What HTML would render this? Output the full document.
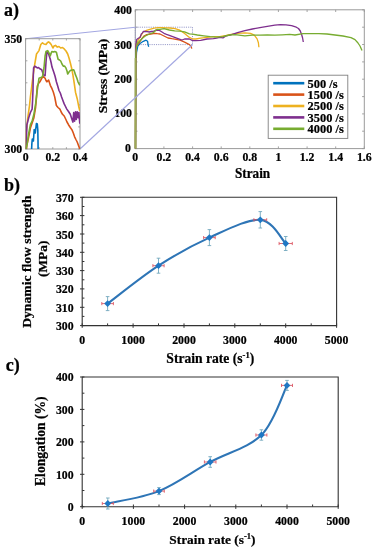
<!DOCTYPE html>
<html><head><meta charset="utf-8"><title>Figure</title>
<style>html,body{margin:0;padding:0;background:#fff;overflow:hidden}svg{display:block;filter:blur(0.3px)}svg text{stroke:#000;stroke-width:0.22px}</style></head>
<body><svg width="375" height="550" viewBox="0 0 375 550" font-family="'Liberation Serif', 'Times New Roman', serif" font-weight="bold" fill="#000">
<rect width="375" height="550" fill="#fff"/>
<text x="4.0" y="16.0" font-size="18" text-anchor="start" >a)</text>
<text x="4.0" y="191.0" font-size="18" text-anchor="start" >b)</text>
<text x="5.8" y="371.2" font-size="18" text-anchor="start" >c)</text>
<rect x="135.3" y="9.8" width="229.0" height="138.8" fill="none" stroke="#9a9a9a" stroke-width="1"/>
<path d="M135.3,148.6v-2.2M135.3,9.8v2.2M163.9,148.6v-2.2M163.9,9.8v2.2M192.6,148.6v-2.2M192.6,9.8v2.2M221.2,148.6v-2.2M221.2,9.8v2.2M249.8,148.6v-2.2M249.8,9.8v2.2M278.4,148.6v-2.2M278.4,9.8v2.2M307.1,148.6v-2.2M307.1,9.8v2.2M335.7,148.6v-2.2M335.7,9.8v2.2M364.3,148.6v-2.2M364.3,9.8v2.2M135.3,148.6h2.2M364.3,148.6h-2.2M135.3,131.2h2.2M364.3,131.2h-2.2M135.3,113.9h2.2M364.3,113.9h-2.2M135.3,96.6h2.2M364.3,96.6h-2.2M135.3,79.2h2.2M364.3,79.2h-2.2M135.3,61.9h2.2M364.3,61.9h-2.2M135.3,44.5h2.2M364.3,44.5h-2.2M135.3,27.2h2.2M364.3,27.2h-2.2M135.3,9.8h2.2M364.3,9.8h-2.2" stroke="#9a9a9a" stroke-width="0.9" fill="none"/>
<text x="135.3" y="160.6" font-size="11.8" text-anchor="middle" transform="matrix(1,0,0,1.1,0,-15.66)" >0</text>
<text x="163.9" y="160.6" font-size="11.8" text-anchor="middle" transform="matrix(1,0,0,1.1,0,-15.66)" >0.2</text>
<text x="192.6" y="160.6" font-size="11.8" text-anchor="middle" transform="matrix(1,0,0,1.1,0,-15.66)" >0.4</text>
<text x="221.2" y="160.6" font-size="11.8" text-anchor="middle" transform="matrix(1,0,0,1.1,0,-15.66)" >0.6</text>
<text x="249.8" y="160.6" font-size="11.8" text-anchor="middle" transform="matrix(1,0,0,1.1,0,-15.66)" >0.8</text>
<text x="278.4" y="160.6" font-size="11.8" text-anchor="middle" transform="matrix(1,0,0,1.1,0,-15.66)" >1</text>
<text x="307.1" y="160.6" font-size="11.8" text-anchor="middle" transform="matrix(1,0,0,1.1,0,-15.66)" >1.2</text>
<text x="335.7" y="160.6" font-size="11.8" text-anchor="middle" transform="matrix(1,0,0,1.1,0,-15.66)" >1.4</text>
<text x="364.3" y="160.6" font-size="11.8" text-anchor="middle" transform="matrix(1,0,0,1.1,0,-15.66)" >1.6</text>
<text x="130.8" y="151.9" font-size="11.8" text-anchor="end" transform="matrix(1,0,0,1.1,0,-14.79)" >0</text>
<text x="132.0" y="116.7" font-size="11.8" text-anchor="end" transform="matrix(1,0,0,1.1,0,-11.27)" >100</text>
<text x="132.0" y="82.8" font-size="11.8" text-anchor="end" transform="matrix(1,0,0,1.1,0,-7.88)" >200</text>
<text x="132.0" y="49.1" font-size="11.8" text-anchor="end" transform="matrix(1,0,0,1.1,0,-4.51)" >300</text>
<text x="132.0" y="13.8" font-size="11.8" text-anchor="end" transform="matrix(1,0,0,1.1,0,-0.98)" >400</text>
<text x="252.6" y="177.3" font-size="13.2" text-anchor="middle" transform="matrix(1,0,0,1.08,0,-13.82)" >Strain</text>
<text x="0" y="0" font-size="12.1" text-anchor="middle" transform="translate(107.2,75.9) scale(1,1.12) rotate(-90)">Stress (MPa)</text>
<rect x="135.3" y="27.2" width="57.2" height="17.4" fill="none" stroke="#9598c8" stroke-width="1" stroke-dasharray="1.1,1.1"/>
<polyline points="135.5,148.6 135.8,100.0 136.2,60.0 136.5,52.7 137.8,46.2 140.0,43.5 143.3,41.3 146.0,40.2 147.6,41.3 148.2,45.1 148.7,46.7" fill="none" stroke="#0072BD" stroke-width="1.3" stroke-linejoin="round"/>
<polyline points="135.5,148.6 135.8,60.0 136.0,46.7 138.7,43.3 141.3,39.3 144.0,36.0 146.7,34.7 150.7,34.0 154.7,33.3 157.3,33.7 160.0,34.0 164.0,36.0 168.0,38.0 172.0,38.7 176.0,39.3 180.0,40.2 184.6,42.2 189.4,44.6 191.0,46.2 191.8,48.6" fill="none" stroke="#D95319" stroke-width="1.3" stroke-linejoin="round"/>
<polyline points="135.5,148.6 135.7,60.0 136.2,43.5 138.9,39.1 141.1,35.3 143.3,32.0 146.5,30.4 149.8,29.3 154.2,28.2 158.0,27.6 162.0,27.6 166.0,27.8 170.0,28.0 175.0,28.6 179.8,30.2 184.6,33.4 189.4,37.4 192.6,39.0 195.8,39.0 200.6,38.2 207.0,37.4 213.4,36.6 219.8,36.6 226.2,35.5 232.6,34.2 237.5,33.3 244.9,32.8 250.5,33.3 254.3,35.2 257.1,38.9 258.4,42.7 258.9,47.3" fill="none" stroke="#EDB120" stroke-width="1.3" stroke-linejoin="round"/>
<polyline points="135.5,148.6 135.7,60.0 135.9,45.0 136.7,39.6 138.7,38.0 140.0,37.5 141.3,34.0 142.2,33.1 143.3,31.5 145.3,31.3 147.3,31.6 149.3,32.0 151.3,31.5 153.3,31.3 155.3,30.5 157.3,30.0 160.0,30.7 162.0,32.0 164.0,33.3 166.5,34.3 169.3,35.3 172.0,36.3 174.7,37.3 177.3,38.3 180.0,39.3 182.0,40.0 184.6,39.0 189.4,39.0 192.6,40.6 195.8,40.6 200.6,40.3 207.0,39.0 213.4,38.7 216.6,38.2 219.8,37.4 223.0,37.9 226.2,35.8 230.0,35.2 237.5,32.6 244.9,30.6 252.4,29.0 259.9,27.6 267.3,26.3 274.8,25.1 280.4,24.6 286.0,24.8 291.6,25.7 296.3,27.2 298.5,28.5 300.3,31.0 301.6,34.5 302.6,38.0 303.3,42.0" fill="none" stroke="#7E2F8E" stroke-width="1.3" stroke-linejoin="round"/>
<polyline points="135.5,148.6 135.6,60.0 136.0,50.0 137.3,43.3 140.0,40.7 142.7,38.0 145.3,36.0 149.3,34.0 153.3,32.7 156.0,30.0 157.3,29.3 160.0,29.3 164.0,28.7 169.3,30.0 174.7,30.9 179.8,31.2 184.6,31.8 189.4,33.9 192.6,34.2 197.4,35.0 203.8,35.8 210.2,36.6 216.6,37.1 223.0,36.6 229.4,35.0 235.0,34.6 244.9,35.8 252.4,35.2 259.9,35.2 267.3,34.8 274.8,35.2 282.3,34.8 289.7,34.3 295.0,35.0 303.0,33.6 311.0,33.6 319.0,33.6 327.0,34.0 335.0,35.0 343.0,36.0 351.0,37.6 355.0,39.6 358.0,43.0 360.0,46.0 362.0,50.5" fill="none" stroke="#77AC30" stroke-width="1.3" stroke-linejoin="round"/>
<line x1="135.45" y1="148.4" x2="135.6" y2="58" stroke="#9caa55" stroke-width="1.8"/>
<line x1="25.6" y1="38.7" x2="135.3" y2="27.2" stroke="#a3a7e2" stroke-width="1.1"/>
<line x1="80.0" y1="149.0" x2="192.6" y2="44.5" stroke="#a3a7e2" stroke-width="1.1"/>
<rect x="268.2" y="75.2" width="79.6" height="63.2" fill="#fff" stroke="#808080" stroke-width="0.9"/>
<line x1="273.2" y1="83.2" x2="304.3" y2="83.2" stroke="#0072BD" stroke-width="2.6"/>
<text x="307.6" y="87.3" font-size="12.4" text-anchor="start" transform="matrix(1,0,0,1.05,0,-4.15)" >500 /s</text>
<line x1="273.2" y1="94.6" x2="304.3" y2="94.6" stroke="#D95319" stroke-width="2.6"/>
<text x="307.6" y="98.7" font-size="12.4" text-anchor="start" transform="matrix(1,0,0,1.05,0,-4.72)" >1500 /s</text>
<line x1="273.2" y1="106.0" x2="304.3" y2="106.0" stroke="#EDB120" stroke-width="2.6"/>
<text x="307.6" y="110.1" font-size="12.4" text-anchor="start" transform="matrix(1,0,0,1.05,0,-5.29)" >2500 /s</text>
<line x1="273.2" y1="117.4" x2="304.3" y2="117.4" stroke="#7E2F8E" stroke-width="2.6"/>
<text x="307.6" y="121.5" font-size="12.4" text-anchor="start" transform="matrix(1,0,0,1.05,0,-5.86)" >3500 /s</text>
<line x1="273.2" y1="128.8" x2="304.3" y2="128.8" stroke="#77AC30" stroke-width="2.6"/>
<text x="307.6" y="132.9" font-size="12.4" text-anchor="start" transform="matrix(1,0,0,1.05,0,-6.43)" >4000 /s</text>
<defs><clipPath id="ic"><rect x="25.6" y="38.7" width="54.4" height="110.3"/></clipPath></defs>
<rect x="25.6" y="38.7" width="54.4" height="110.3" fill="#fff" stroke="#9a9a9a" stroke-width="1"/>
<path d="M25.6,149.0v-1.8M25.6,38.7v1.8M39.2,149.0v-1.8M39.2,38.7v1.8M52.8,149.0v-1.8M52.8,38.7v1.8M66.4,149.0v-1.8M66.4,38.7v1.8M80.0,149.0v-1.8M80.0,38.7v1.8M25.6,149.0h1.8M80.0,149.0h-1.8M25.6,126.9h1.8M80.0,126.9h-1.8M25.6,104.9h1.8M80.0,104.9h-1.8M25.6,82.8h1.8M80.0,82.8h-1.8M25.6,60.8h1.8M80.0,60.8h-1.8M25.6,38.7h1.8M80.0,38.7h-1.8" stroke="#9a9a9a" stroke-width="0.9" fill="none"/>
<g clip-path="url(#ic)">
<polyline points="31.6,149.5 31.9,143.0 32.3,139.0 33.4,141.0 34.2,129.5 35.3,133.0 36.4,123.5 37.3,124.0 37.8,130.0 38.0,140.0 38.1,149.5" fill="none" stroke="#0072BD" stroke-width="1.6" stroke-linejoin="round"/>
<polyline points="26.5,149.0 26.9,145.0 28.7,136.8 30.4,128.1 32.1,122.9 33.9,117.7 35.6,107.3 36.5,96.9 37.3,86.1 38.5,83.5 39.9,81.8 41.7,78.3 43.4,76.6 45.1,78.3 46.0,80.5 46.9,81.8 48.6,80.1 50.3,85.3 52.0,88.7 53.3,92.0 54.7,96.9 55.5,101.0 56.4,105.6 58.0,107.5 59.9,109.1 61.2,112.0 62.5,114.3 64.2,116.0 65.9,119.5 67.0,122.0 68.5,124.7 70.3,127.5 72.0,129.9 73.3,133.0 74.6,136.8 75.9,139.5 77.2,142.0 78.5,145.5 79.8,148.9" fill="none" stroke="#D95319" stroke-width="1.6" stroke-linejoin="round"/>
<polyline points="25.9,149.0 26.1,133.3 27.8,117.7 29.5,105.6 30.4,96.9 31.3,90.0 32.5,80.0 34.7,64.5 36.5,54.0 39.0,50.6 40.8,44.5 42.5,42.8 44.0,44.0 46.0,44.5 47.5,42.5 48.6,41.9 50.0,43.0 51.2,44.5 52.9,48.0 54.0,46.0 55.5,45.4 57.3,47.1 59.0,46.5 60.7,48.0 62.5,47.5 64.2,48.9 66.0,51.0 67.7,54.0 69.0,58.0 70.3,62.7 71.6,68.0 72.9,74.9 74.2,83.0 75.5,92.2 77.2,98.7 78.9,107.3 79.8,110.8" fill="none" stroke="#EDB120" stroke-width="1.6" stroke-linejoin="round"/>
<polyline points="26.1,149.0 26.9,124.7 28.7,117.7 30.4,112.5 32.1,109.1 32.6,100.0 33.0,90.0 33.3,75.0 33.6,68.0 34.7,66.2 36.0,67.0 37.3,67.9 38.5,67.5 39.9,68.8 41.7,69.7 42.5,72.0 43.4,74.9 45.1,75.7 46.0,62.0 46.9,51.5 48.6,54.0 50.3,59.3 51.2,63.0 52.0,67.1 53.8,72.3 55.0,76.0 56.4,81.8 57.7,86.0 59.0,90.5 60.3,93.0 61.6,96.9 62.9,100.5 64.2,103.9 65.5,106.5 66.8,109.1 68.5,111.5 70.3,114.3 71.2,117.0 72.0,119.5 72.9,122.1 73.7,112.5 74.6,121.2 75.5,111.7 76.3,119.5 77.2,111.7 78.0,117.7 78.9,112.5 79.8,123.8" fill="none" stroke="#7E2F8E" stroke-width="1.6" stroke-linejoin="round"/>
<polyline points="26.0,149.0 26.9,145.5 28.7,133.3 30.4,124.7 32.1,121.2 33.9,114.3 35.6,103.9 37.3,90.0 39.0,78.3 41.0,77.5 42.5,76.6 44.0,68.0 45.1,55.8 46.0,51.5 47.7,50.6 49.0,53.0 50.3,55.8 51.2,53.0 52.0,51.5 53.5,52.0 54.7,51.5 56.4,52.3 57.3,56.0 58.1,59.3 59.5,60.0 60.7,61.0 62.0,64.0 63.3,66.2 64.5,66.0 65.9,67.9 67.0,71.0 67.7,74.0 69.0,72.0 70.3,70.5 72.0,70.0 73.7,69.7 74.6,72.0 75.5,74.9 76.8,78.0 78.0,81.8 79.8,85.3" fill="none" stroke="#77AC30" stroke-width="1.6" stroke-linejoin="round"/>
</g>
<text x="25.6" y="160.6" font-size="11.8" text-anchor="middle" transform="matrix(1,0,0,1.1,0,-15.66)" >0</text>
<text x="52.8" y="160.6" font-size="11.8" text-anchor="middle" transform="matrix(1,0,0,1.1,0,-15.66)" >0.2</text>
<text x="80.0" y="160.6" font-size="11.8" text-anchor="middle" transform="matrix(1,0,0,1.1,0,-15.66)" >0.4</text>
<text x="22.2" y="42.7" font-size="11.8" text-anchor="end" transform="matrix(1,0,0,1.12,0,-4.64)" >350</text>
<text x="22.2" y="153.0" font-size="11.8" text-anchor="end" transform="matrix(1,0,0,1.12,0,-17.88)" >300</text>
<path d="M82.2,197.3H336.6V325.6H82.2Z" fill="none" stroke="#333" stroke-width="1.1"/>
<path d="M82.2,327.8V323.4M107.6,325.6V323.4M133.1,327.8V323.4M158.5,325.6V323.4M184.0,327.8V323.4M209.4,325.6V323.4M234.8,327.8V323.4M260.3,325.6V323.4M285.7,327.8V323.4M311.2,325.6V323.4M336.6,327.8V323.4M80.0,325.6H84.4M82.2,316.4H84.4M80.0,307.3H84.4M82.2,298.1H84.4M80.0,288.9H84.4M82.2,279.8H84.4M80.0,270.6H84.4M82.2,261.5H84.4M80.0,252.3H84.4M82.2,243.1H84.4M80.0,234.0H84.4M82.2,224.8H84.4M80.0,215.6H84.4M82.2,206.5H84.4M80.0,197.3H84.4" stroke="#333" stroke-width="1" fill="none"/>
<text x="82.2" y="343.2" font-size="11.8" text-anchor="middle" transform="matrix(1,0,0,1.1,0,-33.92)" >0</text>
<text x="133.1" y="343.2" font-size="11.8" text-anchor="middle" transform="matrix(1,0,0,1.1,0,-33.92)" >1000</text>
<text x="184.0" y="343.2" font-size="11.8" text-anchor="middle" transform="matrix(1,0,0,1.1,0,-33.92)" >2000</text>
<text x="234.8" y="343.2" font-size="11.8" text-anchor="middle" transform="matrix(1,0,0,1.1,0,-33.92)" >3000</text>
<text x="285.7" y="343.2" font-size="11.8" text-anchor="middle" transform="matrix(1,0,0,1.1,0,-33.92)" >4000</text>
<text x="336.6" y="343.2" font-size="11.8" text-anchor="middle" transform="matrix(1,0,0,1.1,0,-33.92)" >5000</text>
<text x="73.6" y="329.7" font-size="11.8" text-anchor="end" transform="matrix(1,0,0,1.1,0,-32.57)" >300</text>
<text x="73.6" y="311.4" font-size="11.8" text-anchor="end" transform="matrix(1,0,0,1.1,0,-30.74)" >310</text>
<text x="73.6" y="293.0" font-size="11.8" text-anchor="end" transform="matrix(1,0,0,1.1,0,-28.90)" >320</text>
<text x="73.6" y="274.7" font-size="11.8" text-anchor="end" transform="matrix(1,0,0,1.1,0,-27.07)" >330</text>
<text x="73.6" y="256.4" font-size="11.8" text-anchor="end" transform="matrix(1,0,0,1.1,0,-25.24)" >340</text>
<text x="73.6" y="238.1" font-size="11.8" text-anchor="end" transform="matrix(1,0,0,1.1,0,-23.40)" >350</text>
<text x="73.6" y="219.7" font-size="11.8" text-anchor="end" transform="matrix(1,0,0,1.1,0,-21.57)" >360</text>
<text x="73.6" y="201.4" font-size="11.8" text-anchor="end" transform="matrix(1,0,0,1.1,0,-19.74)" >370</text>
<text x="210.3" y="362.5" font-size="13.6" text-anchor="middle">Strain rate (s<tspan dy="-5" font-size="8.5">-1</tspan><tspan dy="5">)</tspan></text>
<text x="0" y="0" font-size="12.6" text-anchor="middle" transform="translate(31.3,261.6) scale(1,1.085) rotate(-90)">Dynamic flow strength</text>
<text x="0" y="0" font-size="12.4" text-anchor="middle" transform="translate(47.2,258.8) scale(1,1.08) rotate(-90)">(MPa)</text>
<path d="M107.64,303.61 C116.12,297.28 141.56,276.66 158.52,265.67 C175.48,254.67 192.44,245.26 209.40,237.62 C226.36,229.99 247.56,218.87 260.28,219.84 C273.00,220.82 281.48,239.55 285.72,243.49" fill="none" stroke="#2E75B6" stroke-width="2.1"/>
<path d="M107.6,296.6V310.6M105.8,296.6h3.6M105.8,310.6h3.6" stroke="#73a8bd" stroke-width="0.9" fill="none"/>
<path d="M101.8,303.6H113.4M101.8,302.0v3.2M113.4,302.0v3.2" stroke="#dc5a66" stroke-width="0.9" fill="none"/>
<path d="M107.6,300.2L111.0,303.6L107.6,307.0L104.2,303.6Z" fill="#1f77c4"/>
<path d="M158.5,258.2V273.2M156.7,258.2h3.6M156.7,273.2h3.6" stroke="#73a8bd" stroke-width="0.9" fill="none"/>
<path d="M152.9,265.7H164.1M152.9,264.1v3.2M164.1,264.1v3.2" stroke="#dc5a66" stroke-width="0.9" fill="none"/>
<path d="M158.5,262.3L161.9,265.7L158.5,269.1L155.1,265.7Z" fill="#1f77c4"/>
<path d="M209.4,229.6V245.6M207.6,229.6h3.6M207.6,245.6h3.6" stroke="#73a8bd" stroke-width="0.9" fill="none"/>
<path d="M203.6,237.6H215.2M203.6,236.0v3.2M215.2,236.0v3.2" stroke="#dc5a66" stroke-width="0.9" fill="none"/>
<path d="M209.4,234.2L212.8,237.6L209.4,241.0L206.0,237.6Z" fill="#1f77c4"/>
<path d="M260.3,211.6V228.0M258.5,211.6h3.6M258.5,228.0h3.6" stroke="#73a8bd" stroke-width="0.9" fill="none"/>
<path d="M253.9,219.8H266.7M253.9,218.2v3.2M266.7,218.2v3.2" stroke="#dc5a66" stroke-width="0.9" fill="none"/>
<path d="M260.3,216.4L263.7,219.8L260.3,223.2L256.9,219.8Z" fill="#1f77c4"/>
<path d="M285.7,236.5V250.5M283.9,236.5h3.6M283.9,250.5h3.6" stroke="#73a8bd" stroke-width="0.9" fill="none"/>
<path d="M279.1,243.5H292.3M279.1,241.9v3.2M292.3,241.9v3.2" stroke="#dc5a66" stroke-width="0.9" fill="none"/>
<path d="M285.7,240.1L289.1,243.5L285.7,246.9L282.3,243.5Z" fill="#1f77c4"/>
<path d="M82.2,377.0H338.2V506.7H82.2Z" fill="none" stroke="#333" stroke-width="1.1"/>
<path d="M82.2,508.9V504.5M107.8,506.7V504.5M133.4,508.9V504.5M159.0,506.7V504.5M184.6,508.9V504.5M210.2,506.7V504.5M235.8,508.9V504.5M261.4,506.7V504.5M287.0,508.9V504.5M312.6,506.7V504.5M338.2,508.9V504.5M80.0,506.7H84.4M82.2,490.5H84.4M80.0,474.3H84.4M82.2,458.1H84.4M80.0,441.9H84.4M82.2,425.6H84.4M80.0,409.4H84.4M82.2,393.2H84.4M80.0,377.0H84.4" stroke="#333" stroke-width="1" fill="none"/>
<text x="82.2" y="524.3" font-size="11.8" text-anchor="middle" transform="matrix(1,0,0,1.1,0,-52.03)" >0</text>
<text x="133.4" y="524.3" font-size="11.8" text-anchor="middle" transform="matrix(1,0,0,1.1,0,-52.03)" >1000</text>
<text x="184.6" y="524.3" font-size="11.8" text-anchor="middle" transform="matrix(1,0,0,1.1,0,-52.03)" >2000</text>
<text x="235.8" y="524.3" font-size="11.8" text-anchor="middle" transform="matrix(1,0,0,1.1,0,-52.03)" >3000</text>
<text x="287.0" y="524.3" font-size="11.8" text-anchor="middle" transform="matrix(1,0,0,1.1,0,-52.03)" >4000</text>
<text x="338.2" y="524.3" font-size="11.8" text-anchor="middle" transform="matrix(1,0,0,1.1,0,-52.03)" >5000</text>
<text x="73.6" y="510.8" font-size="11.8" text-anchor="end" transform="matrix(1,0,0,1.1,0,-50.68)" >0</text>
<text x="73.6" y="478.4" font-size="11.8" text-anchor="end" transform="matrix(1,0,0,1.1,0,-47.44)" >100</text>
<text x="73.6" y="446.0" font-size="11.8" text-anchor="end" transform="matrix(1,0,0,1.1,0,-44.19)" >200</text>
<text x="73.6" y="413.5" font-size="11.8" text-anchor="end" transform="matrix(1,0,0,1.1,0,-40.95)" >300</text>
<text x="73.6" y="381.1" font-size="11.8" text-anchor="end" transform="matrix(1,0,0,1.1,0,-37.71)" >400</text>
<text x="212.4" y="543.8" font-size="13.3" text-anchor="middle">Strain rate (s<tspan dy="-5" font-size="8.5">-1</tspan><tspan dy="5">)</tspan></text>
<text x="0" y="0" font-size="13.6" text-anchor="middle" transform="translate(44.6,441.2) scale(1,1.0) rotate(-90)">Elongation (%)</text>
<path d="M107.80,503.46 C116.33,501.40 141.93,498.05 159.00,491.14 C176.07,484.22 193.13,471.30 210.20,461.95 C227.27,452.60 248.60,447.79 261.40,435.04 C274.20,422.29 282.73,393.70 287.00,385.43" fill="none" stroke="#2E75B6" stroke-width="2.1"/>
<path d="M107.8,498.0V509.0M106.0,498.0h3.6M106.0,509.0h3.6" stroke="#73a8bd" stroke-width="0.9" fill="none"/>
<path d="M102.3,503.5H113.3M102.3,501.9v3.2M113.3,501.9v3.2" stroke="#dc5a66" stroke-width="0.9" fill="none"/>
<path d="M107.8,500.1L111.2,503.5L107.8,506.9L104.4,503.5Z" fill="#1f77c4"/>
<path d="M159.0,487.6V494.6M157.2,487.6h3.6M157.2,494.6h3.6" stroke="#73a8bd" stroke-width="0.9" fill="none"/>
<path d="M153.7,491.1H164.3M153.7,489.5v3.2M164.3,489.5v3.2" stroke="#dc5a66" stroke-width="0.9" fill="none"/>
<path d="M159.0,487.7L162.4,491.1L159.0,494.5L155.6,491.1Z" fill="#1f77c4"/>
<path d="M210.2,456.7V467.3M208.4,456.7h3.6M208.4,467.3h3.6" stroke="#73a8bd" stroke-width="0.9" fill="none"/>
<path d="M204.4,462.0H216.0M204.4,460.4v3.2M216.0,460.4v3.2" stroke="#dc5a66" stroke-width="0.9" fill="none"/>
<path d="M210.2,458.6L213.6,462.0L210.2,465.4L206.8,462.0Z" fill="#1f77c4"/>
<path d="M261.4,429.8V440.2M259.6,429.8h3.6M259.6,440.2h3.6" stroke="#73a8bd" stroke-width="0.9" fill="none"/>
<path d="M255.9,435.0H266.9M255.9,433.4v3.2M266.9,433.4v3.2" stroke="#dc5a66" stroke-width="0.9" fill="none"/>
<path d="M261.4,431.6L264.8,435.0L261.4,438.4L258.0,435.0Z" fill="#1f77c4"/>
<path d="M287.0,380.4V390.4M285.2,380.4h3.6M285.2,390.4h3.6" stroke="#73a8bd" stroke-width="0.9" fill="none"/>
<path d="M281.5,385.4H292.5M281.5,383.8v3.2M292.5,383.8v3.2" stroke="#dc5a66" stroke-width="0.9" fill="none"/>
<path d="M287.0,382.0L290.4,385.4L287.0,388.8L283.6,385.4Z" fill="#1f77c4"/>
</svg></body></html>
